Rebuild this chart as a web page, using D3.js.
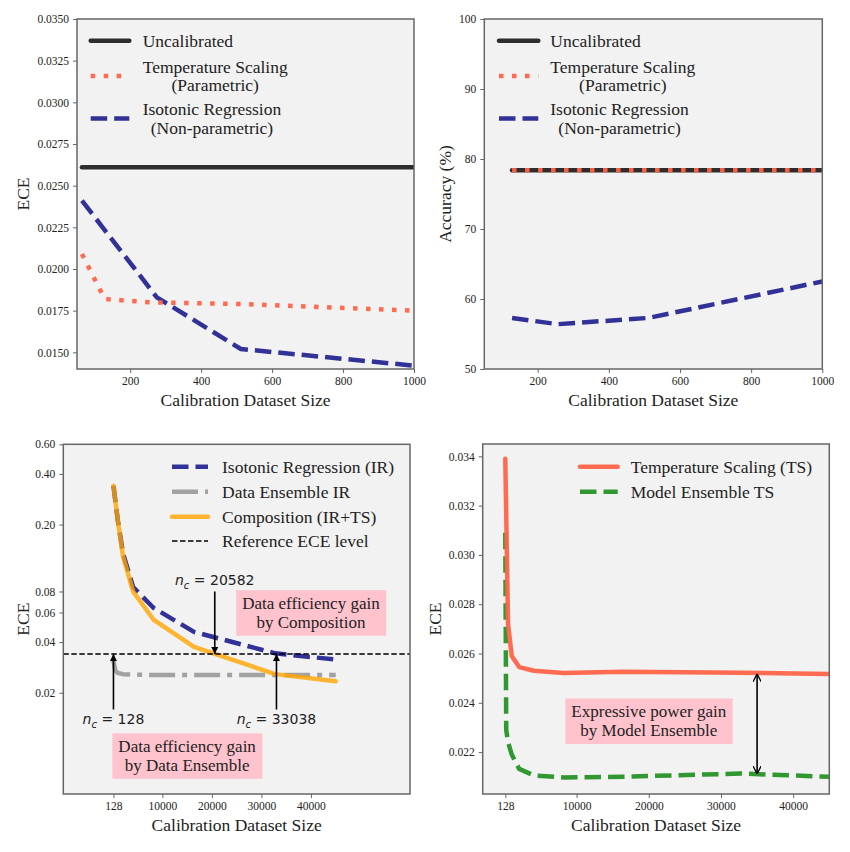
<!DOCTYPE html>
<html>
<head>
<meta charset="utf-8">
<script src="https://cdn.jsdelivr.net/npm/d3@7"></script>
<style>
  body { margin: 0; background: #fff; }
  text { font-family: "Liberation Serif", "Times New Roman", serif; fill: #222; }
</style>
</head>
<body>
<svg id="fig" width="850" height="852"></svg>
<script>
// ---- top row: small calibration sets ----
const topTicksX = [200, 400, 600, 800, 1000];
const eceTicksTop = [0.015, 0.0175, 0.02, 0.0225, 0.025, 0.0275, 0.03, 0.0325, 0.035];
const accTicks = [50, 60, 70, 80, 90, 100];

const uncalSize = [64, 1000];
const uncalEce = [0.0261, 0.0261];
const tsSize = [64, 128, 256, 512, 1000];
const tsEce = [0.0209, 0.0182, 0.0180, 0.0179, 0.0175];
const irSize = [64, 275, 512, 1000];
const irEce = [0.0241, 0.0183, 0.0152, 0.0142];

const accSize = [128, 1000];
const uncalAcc = [78.4, 78.4];
const tsAcc = [78.4, 78.4];
const irAccSize = [128, 256, 512, 1000];
const irAcc = [57.3, 56.4, 57.3, 62.5];

// ---- bottom row: full range of calibration set ----
const bottomTicksX = [128, 10000, 20000, 30000, 40000];
const eceTicksLog = [0.02, 0.04, 0.06, 0.08, 0.2, 0.4, 0.6];
const eceTicksBR = [0.022, 0.024, 0.026, 0.028, 0.030, 0.032, 0.034];

const bigSize = [128, 1024, 2048, 4096, 8192, 16384, 32768, 45000];
const irBigEce = [0.34, 0.21, 0.135, 0.085, 0.064, 0.046, 0.0343, 0.0315];
const compEce = [0.34, 0.21, 0.13, 0.08, 0.0545, 0.0375, 0.0258, 0.0234];
const deSize = [128, 512, 1024, 2048, 4096, 8192, 16384, 32768, 45000];
const deEce = [0.031, 0.027, 0.0262, 0.0258, 0.0256, 0.0255, 0.0255, 0.0255, 0.0255];
const refEce = 0.034;
const ncValues = [128, 20582, 33038];

const tsBigSize = [128, 512, 1024, 2048, 4096, 8192, 16384, 32768, 45000];
const tsBigEce = [0.0339, 0.0272, 0.0259, 0.02545, 0.0253, 0.02521, 0.02526, 0.02522, 0.02517];
const meSize = [128, 256, 512, 1024, 2048, 4096, 8192, 16384, 32768, 45000];
const meEce = [0.0309, 0.0229, 0.0224, 0.0219, 0.02132, 0.02105, 0.02097, 0.0210, 0.02113, 0.0210];
const gapSize = 35000;

const svg = d3.select("#fig");
const defs = svg.append("defs");
defs.append("marker").attr("id", "head").attr("viewBox", "0 0 10 10")
  .attr("refX", 10).attr("refY", 5).attr("markerWidth", 7).attr("markerHeight", 9)
  .attr("markerUnits", "userSpaceOnUse").attr("orient", "auto")
  .append("path").attr("d", "M0,0L10,5L0,10z").attr("fill", "#000");
defs.append("marker").attr("id", "chev").attr("viewBox", "0 0 10 10")
  .attr("refX", 10).attr("refY", 5).attr("markerWidth", 8).attr("markerHeight", 8)
  .attr("markerUnits", "userSpaceOnUse").attr("orient", "auto-start-reverse")
  .append("path").attr("d", "M0,0L10,5L0,10").attr("fill", "none")
  .attr("stroke", "#000").attr("stroke-width", 1.6);

// line styles
const sUncal = { stroke: "#111", width: 4.5, opacity: 0.88, cap: "round" };
const sTSdot = { stroke: "#ff6347", width: 4.5, opacity: 0.95, dash: "4.5,8.5" };
const sIR = { stroke: "#000080", width: 4.5, opacity: 0.8, dash: "16.5,7" };
const sDE = { stroke: "#808080", width: 4.5, opacity: 0.7, dash: "26,7,5,7" };
const sComp = { stroke: "#ffa500", width: 4.5, opacity: 0.8, cap: "round" };
const sRef = { stroke: "#000", width: 1.5, opacity: 1, dash: "5.5,2.5" };
const sTS = { stroke: "#ff6347", width: 4.5, opacity: 0.95, cap: "round" };
const sME = { stroke: "#008000", width: 4.5, opacity: 0.8, dash: "16.5,7" };

function styled(sel, s) {
  return sel.attr("fill", "none").attr("stroke", s.stroke).attr("stroke-width", s.width)
    .attr("stroke-opacity", s.opacity).attr("stroke-dasharray", s.dash || null)
    .attr("stroke-linecap", s.cap || "butt").attr("stroke-linejoin", "round");
}

let clipN = 0;
function panel(box, x, y, xTicks, yTicks, yFmt, yLabel, yLabelOff) {
  x.range([box.left, box.right]);
  y.range([box.bottom, box.top]);
  const g = svg.append("g");
  const w = box.right - box.left, h = box.bottom - box.top;
  g.append("rect").attr("x", box.left).attr("y", box.top).attr("width", w).attr("height", h).attr("fill", "#f2f2f2");
  const id = "clip" + (clipN++);
  defs.append("clipPath").attr("id", id).append("rect")
    .attr("x", box.left).attr("y", box.top).attr("width", w).attr("height", h);
  const plot = g.append("g").attr("clip-path", `url(#${id})`);
  const ax = g.append("g").attr("transform", `translate(0,${box.bottom})`)
    .call(d3.axisBottom(x).tickValues(xTicks).tickFormat(d3.format("d")).tickSize(4).tickPadding(4));
  const ay = g.append("g").attr("transform", `translate(${box.left},0)`)
    .call(d3.axisLeft(y).tickValues(yTicks).tickFormat(yFmt).tickSize(4).tickPadding(4));
  [ax, ay].forEach(a => {
    a.select(".domain").remove();
    a.selectAll(".tick line").attr("stroke", "#666").attr("stroke-width", 1);
    a.selectAll(".tick text").attr("fill", "#333").style("font-size", "11.5px")
      .style("font-family", '"Liberation Serif","Times New Roman",serif');
  });
  g.append("rect").attr("x", box.left).attr("y", box.top).attr("width", w).attr("height", h)
    .attr("fill", "none").attr("stroke", "#666").attr("stroke-width", 1.5);
  g.append("text").attr("x", (box.left + box.right) / 2).attr("y", box.bottom + 37)
    .attr("text-anchor", "middle").style("font-size", "17.5px").text("Calibration Dataset Size");
  g.append("text").attr("transform", `translate(${box.left - yLabelOff},${(box.top + box.bottom) / 2}) rotate(-90)`)
    .attr("text-anchor", "middle").attr("dy", "0.35em").style("font-size", "17.5px").text(yLabel);
  return { g, plot, x, y, box };
}

function series(p, xs, ys, s) {
  const line = d3.line().x(d => p.x(d[0])).y(d => p.y(d[1]));
  styled(p.plot.append("path").datum(d3.zip(xs, ys)).attr("d", line), s);
}

function multiText(g, cx, cy, lines, size, spacing) {
  const t = g.append("text").attr("text-anchor", "middle").style("font-size", size + "px");
  lines.forEach((s, i) => t.append("tspan").attr("x", cx)
    .attr("y", cy + (i - (lines.length - 1) / 2) * spacing).attr("dy", "0.35em").text(s));
  return t;
}

function legend(p, x0, x1, tx, rows) {
  const g = p.g.append("g");
  rows.forEach(r => {
    const yy = p.box.top + r.dy;
    styled(g.append("line").attr("x1", p.box.left + x0).attr("x2", p.box.left + x1)
      .attr("y1", yy).attr("y2", yy), r.style);
    const t = multiText(g, 0, yy, r.lines, 17.5, 18.6);
    const w = d3.max(t.selectAll("tspan").nodes(), n => n.getComputedTextLength());
    t.selectAll("tspan").attr("x", p.box.left + tx + w / 2);
  });
}

function pinkBox(p, cx, cy, lines) {
  const g = p.g.append("g");
  const rect = g.append("rect").attr("fill", "#ffc0cb").attr("fill-opacity", 0.95);
  const t = multiText(g, p.x(cx), p.y(cy), lines, 17, 18.5);
  const b = t.node().getBBox();
  rect.attr("x", b.x - 6).attr("y", b.y - 4).attr("width", b.width + 12).attr("height", b.height + 8);
}

function ncLabel(p, n, yv) {
  const t = p.g.append("text").attr("x", p.x(n)).attr("y", p.y(yv)).attr("dy", "0.35em")
    .attr("text-anchor", "middle").style("font-family", '"DejaVu Sans",sans-serif').style("font-size", "14px");
  t.append("tspan").style("font-style", "italic").text("n");
  t.append("tspan").style("font-style", "italic").style("font-size", "10px").attr("dy", 4).text("c");
  t.append("tspan").attr("dy", -4).text(" = " + n);
}

function arrow(p, xv, y0, y1, marker, both) {
  p.g.append("line").attr("x1", p.x(xv)).attr("x2", p.x(xv)).attr("y1", p.y(y0)).attr("y2", p.y(y1))
    .attr("stroke", "#000").attr("stroke-width", 1.6)
    .attr("marker-end", `url(#${marker})`).attr("marker-start", both ? `url(#${marker})` : null);
}

// ---- top-left: ECE ----
const tl = panel({ left: 77, right: 414, top: 19, bottom: 369 },
  d3.scaleLinear().domain([50, 1000]), d3.scaleLinear().domain([0.0140, 0.0350]),
  topTicksX, eceTicksTop, d3.format(".4f"), "ECE", 54);
series(tl, uncalSize, uncalEce, sUncal);
series(tl, irSize, irEce, sIR);
series(tl, tsSize, tsEce, sTSdot);
legend(tl, 13.7, 52.3, 65.7, [
  { dy: 21.7, lines: ["Uncalibrated"], style: sUncal },
  { dy: 57, lines: ["Temperature Scaling", "(Parametric)"], style: sTSdot },
  { dy: 99.5, lines: ["Isotonic Regression", "(Non-parametric)"], style: sIR }
]);

// ---- top-right: accuracy ----
const tr = panel({ left: 484.3, right: 822.3, top: 19, bottom: 369 },
  d3.scaleLinear().domain([50, 1000]), d3.scaleLinear().domain([50, 100]),
  topTicksX, accTicks, d3.format("d"), "Accuracy (%)", 39);
series(tr, accSize, uncalAcc, sUncal);
series(tr, accSize, tsAcc, sTSdot);
series(tr, irAccSize, irAcc, sIR);
legend(tr, 14.7, 54, 66, [
  { dy: 21.7, lines: ["Uncalibrated"], style: sUncal },
  { dy: 57, lines: ["Temperature Scaling", "(Parametric)"], style: sTSdot },
  { dy: 99.5, lines: ["Isotonic Regression", "(Non-parametric)"], style: sIR }
]);

// ---- bottom-left: log ECE, data ensemble / composition ----
const bl = panel({ left: 63.3, right: 410, top: 444.3, bottom: 794 },
  d3.scaleLinear().domain([-10000, 60000]), d3.scaleLog().domain([0.005, 0.6]),
  bottomTicksX, eceTicksLog, d3.format(".2f"), "ECE", 40);
series(bl, bigSize, irBigEce, sIR);
series(bl, deSize, deEce, sDE);
series(bl, bigSize, compEce, sComp);
bl.plot.append("line").attr("x1", bl.box.left).attr("x2", bl.box.right)
  .attr("y1", bl.y(refEce)).attr("y2", bl.y(refEce)).call(s => styled(s, sRef));
legend(bl, 108.7, 144.7, 158.7, [
  { dy: 22.4, lines: ["Isotonic Regression (IR)"], style: sIR },
  { dy: 47.4, lines: ["Data Ensemble IR"], style: sDE },
  { dy: 72.4, lines: ["Composition (IR+TS)"], style: sComp },
  { dy: 96.7, lines: ["Reference ECE level"], style: sRef }
]);
arrow(bl, ncValues[1], 0.08, refEce, "head");
arrow(bl, ncValues[0], 0.0159, refEce, "head");
arrow(bl, ncValues[2], 0.0159, refEce, "head");
ncLabel(bl, ncValues[1], 0.094);
ncLabel(bl, ncValues[0], 0.0139);
ncLabel(bl, ncValues[2], 0.0139);
pinkBox(bl, 40000, 0.06, ["Data efficiency gain", "by Composition"]);
pinkBox(bl, 15000, 0.00846, ["Data efficiency gain", "by Data Ensemble"]);

// ---- bottom-right: TS vs model ensemble TS ----
const br = panel({ left: 482.7, right: 829.3, top: 444, bottom: 794 },
  d3.scaleLinear().domain([-3000, 45000]), d3.scaleLinear().domain([0.0203, 0.0345]),
  bottomTicksX, eceTicksBR, d3.format(".3f"), "ECE", 48);
series(br, meSize, meEce, sME);
series(br, tsBigSize, tsBigEce, sTS);
legend(br, 97.3, 135, 148, [
  { dy: 22.7, lines: ["Temperature Scaling (TS)"], style: sTS },
  { dy: 47.7, lines: ["Model Ensemble TS"], style: sME }
]);
pinkBox(br, 20000, 0.02327, ["Expressive power gain", "by Model Ensemble"]);
arrow(br, gapSize, 0.02518, 0.02111, "chev", true);
</script>
</body>
</html>
